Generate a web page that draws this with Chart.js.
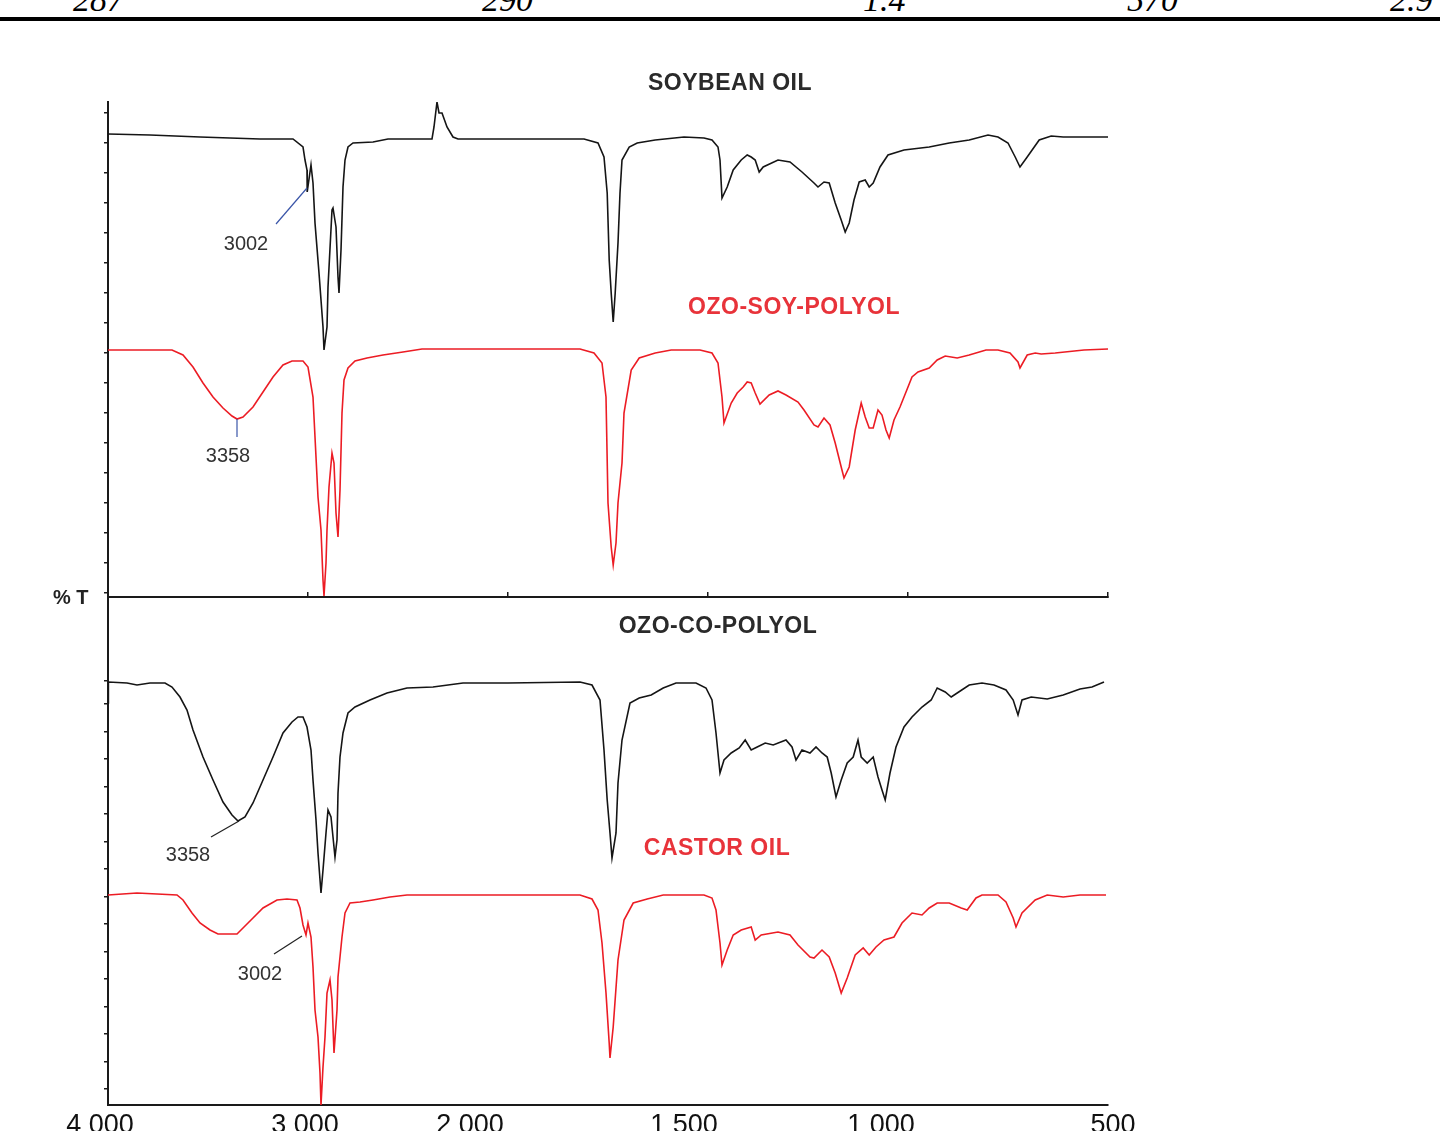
<!DOCTYPE html>
<html>
<head>
<meta charset="utf-8">
<script src="https://cdn.jsdelivr.net/npm/chart.js@4.4.0/dist/chart.umd.min.js"></script>
<style>
  body { margin: 0; width: 1440px; height: 1131px; background: #fff; position: relative; overflow: hidden;
         font-family: "Liberation Sans", Arial, sans-serif; }
  .hdr { position: absolute; top: -17px; font: italic 34px "Liberation Serif", "Times New Roman", serif; color: #000; line-height: 34px; }
  .rule { position: absolute; left: 0; top: 17px; width: 1440px; height: 4px; background: #000; }
  .title { position: absolute; font-size: 23px; font-weight: bold; line-height: 1; white-space: nowrap;
           transform: translate(-50%, -50%); letter-spacing: 0.5px; }
  .black { color: #2a2a2a; }
  .red { color: #e8333a; }
  #ylab { position: absolute; left: 53px; top: 587px; font-size: 20px; font-weight: bold; color: #222; line-height: 20px; }
  canvas { position: absolute; left: 0; }
</style>
</head>
<body>
<div class="hdr" style="left:73px">287</div>
<div class="hdr" style="left:482px">290</div>
<div class="hdr" style="left:863px">1.4</div>
<div class="hdr" style="left:1127px">570</div>
<div class="hdr" style="left:1390px">2.9</div>
<div class="rule"></div>

<canvas id="topchart" width="1440" height="600" style="top:0"></canvas>
<canvas id="bottomchart" width="1440" height="534" style="top:597px"></canvas>

<div class="title black" style="left:730px; top:82px">SOYBEAN OIL</div>
<div class="title red" style="left:794px; top:306px">OZO-SOY-POLYOL</div>
<div class="title black" style="left:718px; top:625px">OZO-CO-POLYOL</div>
<div class="title red" style="left:717px; top:847px">CASTOR OIL</div>
<div id="ylab">% T</div>

<script>
// x ticks (wavenumber, cm-1) - scale changes at 2000
const xTickValues = [4000, 3000, 2000, 1500, 1000, 500];
const xTickLabels = ['4 000', '3 000', '2 000', '1 500', '1 000', '500'];

// soybean oil
const soyWn = [4000,3790,3540,3240,3075,3025,3015,3005,3004,2985,2975,2965,2945,2925,2920,2905,2900,2880,2875,2860,2850,2845,2835,2825,2815,2800,2775,2675,2600,2380,2370,2355,2345,2330,2305,2275,2250,2000,1810,1775,1760,1752,1747,1742,1737,1732,1725,1720,1715,1697,1677,1632,1560,1510,1490,1475,1470,1465,1452,1437,1417,1402,1392,1382,1372,1362,1325,1295,1265,1235,1225,1210,1197,1182,1167,1157,1147,1135,1122,1107,1097,1087,1070,1050,1010,947,897,847,800,775,750,732,720,702,672,642,612,560,500];
const soyT = [92.6,92.4,92.0,91.6,91.6,90.0,87.4,85.4,81.0,86.4,82.8,74.8,64.8,54.0,49.4,54.0,62.0,77.4,77.8,74.0,64.0,60.8,69.4,82.0,87.4,90.0,90.8,91.0,91.6,91.6,94.0,99.0,96.8,96.8,94.0,92.0,91.6,91.6,91.6,90.8,88.0,80.8,67.4,60.8,55.0,60.8,70.8,80.8,87.4,90.0,90.8,91.4,92.0,91.8,91.4,90.0,87.4,79.8,82.0,85.4,87.4,88.4,88.0,87.4,85.0,86.0,87.4,87.0,85.0,82.8,82.0,83.0,82.8,78.8,75.4,73.0,74.8,79.4,83.0,83.4,82.0,82.8,86.0,88.4,89.4,90.0,90.8,91.4,92.4,92.0,90.8,88.0,86.0,88.0,91.4,92.2,92.0,92.0,92.0];

// ozonolysed soy polyol
const polySoyWn = [4000,3680,3625,3575,3525,3475,3425,3380,3355,3325,3275,3225,3175,3125,3080,3025,3000,2975,2965,2950,2935,2925,2920,2910,2905,2895,2880,2870,2860,2850,2840,2830,2820,2800,2765,2705,2625,2525,2430,2000,1820,1785,1765,1755,1750,1742,1737,1730,1725,1715,1710,1692,1672,1632,1592,1520,1490,1475,1465,1460,1442,1427,1412,1402,1392,1382,1370,1347,1325,1305,1275,1260,1235,1225,1210,1195,1182,1167,1160,1147,1132,1117,1107,1097,1087,1075,1065,1055,1047,1035,1020,1005,990,975,947,927,907,877,847,805,775,745,725,720,702,682,667,632,560,500];
const polySoyT = [49.4,49.4,48.4,46.0,42.8,40.0,37.8,36.2,35.6,36.0,38.0,41.0,44.0,46.4,47.2,47.2,46.0,40.0,32.0,20.0,13.4,3.4,0.2,6.8,13.4,22.0,28.8,26.8,16.8,12.0,21.4,36.8,43.4,45.8,47.2,47.8,48.4,49.0,49.6,49.6,49.6,48.8,46.8,40.0,18.8,10.0,6.4,10.8,18.8,26.8,36.8,45.4,47.8,48.8,49.4,49.4,48.8,46.8,40.0,34.8,38.8,40.8,42.0,43.0,42.8,40.8,38.6,40.4,41.2,40.4,39.0,37.4,34.4,34.0,35.8,34.4,30.8,26.0,23.8,26.0,33.4,38.8,36.0,33.8,33.8,37.4,36.4,33.4,31.8,35.4,38.0,41.0,44.0,45.0,45.8,47.4,48.2,47.8,48.4,49.4,49.4,48.8,47.0,45.8,48.4,48.8,48.6,48.8,49.4,49.6];

// ozonolysed castor oil polyol
const polyCoWn = [4000,3998,3905,3855,3790,3715,3680,3640,3605,3575,3525,3475,3425,3380,3350,3315,3275,3225,3175,3125,3080,3050,3025,3005,2985,2975,2960,2950,2935,2925,2910,2900,2885,2875,2865,2855,2850,2840,2825,2800,2765,2690,2605,2505,2375,2225,2000,1820,1790,1770,1760,1752,1745,1740,1730,1725,1715,1695,1672,1642,1612,1580,1530,1505,1490,1480,1470,1460,1442,1422,1407,1392,1377,1357,1337,1305,1290,1280,1265,1245,1230,1215,1202,1192,1180,1167,1152,1137,1125,1117,1102,1087,1075,1065,1057,1045,1030,1010,990,965,942,927,907,892,877,847,815,785,755,737,725,715,692,652,612,570,540,510];
const polyCoT = [79.4,83.6,83.4,83.0,83.4,83.4,82.6,80.6,78.0,74.0,68.6,64.0,59.6,57.0,55.8,56.6,59.4,64.0,68.6,73.4,75.6,76.6,76.6,74.6,70.0,64.0,56.0,49.4,41.4,46.0,53.4,58.0,56.6,52.6,48.6,52.0,61.4,68.6,73.4,77.4,78.6,80.0,81.4,82.4,82.6,83.4,83.4,83.6,83.0,80.0,70.0,60.0,53.4,48.4,53.4,63.4,72.0,79.4,80.4,81.0,82.4,83.4,83.4,82.4,80.0,73.4,65.4,68.0,69.4,70.4,72.0,70.0,70.6,71.4,71.0,72.0,70.6,68.0,70.0,69.4,70.6,69.4,68.6,65.4,60.6,64.0,67.4,68.6,72.0,68.6,67.4,68.6,64.6,62.0,60.0,65.4,70.6,74.6,76.6,78.6,80.0,82.4,81.6,80.6,81.4,83.0,83.4,83.0,82.0,80.0,77.0,80.0,80.6,80.2,81.0,82.2,82.6,83.6];

// castor oil
const castorWn = [4000,3855,3655,3625,3580,3540,3490,3450,3355,3325,3275,3225,3155,3105,3055,3040,3025,3010,3000,2985,2975,2965,2950,2940,2935,2925,2915,2905,2890,2880,2870,2855,2850,2830,2815,2790,2740,2675,2590,2505,2000,1820,1790,1775,1765,1755,1747,1745,1737,1725,1710,1687,1652,1612,1510,1490,1480,1470,1465,1452,1437,1417,1392,1382,1367,1325,1295,1275,1245,1235,1215,1197,1182,1167,1152,1132,1112,1097,1080,1060,1035,1015,990,965,947,927,897,867,852,830,815,775,755,737,730,715,682,652,612,570,505];
const castorT = [41.0,41.4,41.0,40.0,37.4,35.4,34.0,33.2,33.2,34.4,36.4,38.4,40.0,40.2,40.0,38.4,35.0,33.0,35.4,32.6,26.6,18.0,12.6,5.4,-1.0,6.6,12.6,21.4,24.0,20.0,9.4,18.0,24.6,32.6,37.4,39.4,39.6,40.0,40.6,41.0,41.0,41.0,40.2,38.0,31.4,21.4,11.4,8.4,14.6,28.0,36.0,39.4,40.2,41.0,41.0,40.4,38.0,31.4,27.0,30.0,33.0,34.0,34.6,32.0,33.0,33.6,33.0,31.0,28.6,28.4,30.0,28.6,25.4,21.4,24.4,29.0,30.4,29.0,30.6,32.0,32.6,35.4,37.4,37.0,38.4,39.4,39.4,38.4,38.0,40.4,41.0,41.0,39.6,36.4,34.6,37.4,40.0,41.0,40.6,41.0,41.0];

// peak labels: text position and leader line, in wavenumber / %T
const topNotes = [
    { label: '3002', wn: 3310, t: 70.6, line: [3005, 81.8, 3160, 74.6], color: '#3a55a8' },
    { label: '3358', wn: 3400, t: 28.2, line: [3355, 35.6, 3355, 32.0], color: '#3a55a8' }
];
const bottomNotes = [
    { label: '3358', wn: 3600, t: 49.0, line: [3345, 55.8, 3485, 52.6], color: '#222' },
    { label: '3002', wn: 3240, t: 25.2, line: [3030, 32.8, 3170, 29.2], color: '#222' }
];

const axisColor = '#1a1a1a';
const blackLine = '#151515';
const redLine = '#ec1c24';

// wavenumber axis: 4000-2000 on the first 40%, 2000-500 on the rest
const splitWn = 2000, splitFrac = 0.4, maxWn = 4000, minWn = 500;
const LinearScale = Chart.LinearScale || Chart.registry.getScale('linear');
class WavenumberScale extends LinearScale {
    getPixelForValue(value) {
        let f;
        if (value >= splitWn) f = (maxWn - value) / (maxWn - splitWn) * splitFrac;
        else f = splitFrac + (splitWn - value) / (splitWn - minWn) * (1 - splitFrac);
        return this.left + f * this.width;
    }
    getValueForPixel(pixel) {
        const f = (pixel - this.left) / this.width;
        if (f <= splitFrac) return maxWn - f / splitFrac * (maxWn - splitWn);
        return splitWn - (f - splitFrac) / (1 - splitFrac) * (splitWn - minWn);
    }
}
WavenumberScale.id = 'wavenumber';
WavenumberScale.defaults = LinearScale.defaults;
Chart.register(WavenumberScale);

function toPoints(wn, t) {
    return wn.map((w, i) => ({ x: w, y: t[i] }));
}

function trace(wn, t, color) {
    return {
        data: toPoints(wn, t),
        borderColor: color,
        borderWidth: 1.6,
        pointRadius: 0,
        tension: 0,
        fill: false
    };
}

function notesPlugin(notes) {
    return {
        id: 'notes',
        afterDatasetsDraw(chart) {
            const ctx = chart.ctx, xs = chart.scales.x, ys = chart.scales.y;
            ctx.save();
            notes.forEach(n => {
                ctx.strokeStyle = n.color;
                ctx.lineWidth = 1.2;
                ctx.beginPath();
                ctx.moveTo(xs.getPixelForValue(n.line[0]), ys.getPixelForValue(n.line[1]));
                ctx.lineTo(xs.getPixelForValue(n.line[2]), ys.getPixelForValue(n.line[3]));
                ctx.stroke();
                ctx.fillStyle = '#333';
                ctx.font = '20px "Liberation Sans", Arial, sans-serif';
                ctx.textAlign = 'center';
                ctx.textBaseline = 'middle';
                ctx.fillText(n.label, xs.getPixelForValue(n.wn), ys.getPixelForValue(n.t));
            });
            ctx.restore();
        }
    };
}

// the x labels in the figure sit a bit off their ticks
const labelNudge = [-8, -3, -38, -24, -27, 5];
const xLabelsPlugin = {
    id: 'xLabels',
    afterDraw(chart) {
        const ctx = chart.ctx, xs = chart.scales.x;
        ctx.save();
        ctx.font = '27px "Liberation Sans", Arial, sans-serif';
        ctx.fillStyle = '#111';
        ctx.textAlign = 'center';
        ctx.textBaseline = 'top';
        xTickValues.forEach((v, i) => {
            ctx.fillText(xTickLabels[i], xs.getPixelForValue(v) + labelNudge[i], xs.bottom + 7);
        });
        ctx.restore();
    }
};

function panelOptions(yMin, yMax, yTicks, padding, xTickLen) {
    return {
        responsive: false,
        animation: false,
        devicePixelRatio: 1,
        layout: { padding: padding },
        plugins: { legend: { display: false }, tooltip: { enabled: false } },
        scales: {
            x: {
                type: 'wavenumber',
                min: minWn,
                max: maxWn,
                afterBuildTicks: axis => { axis.ticks = xTickValues.map(v => ({ value: v })); },
                afterFit: axis => { axis.height = 0; },
                ticks: { display: false },
                grid: { drawOnChartArea: false, drawTicks: xTickLen !== 0, tickLength: xTickLen, color: axisColor, lineWidth: 1.5 },
                border: { color: axisColor, width: 2 }
            },
            y: {
                min: yMin,
                max: yMax,
                afterBuildTicks: axis => { axis.ticks = yTicks.map(v => ({ value: v })); },
                afterFit: axis => { axis.width = 0; },
                ticks: { display: false },
                grid: { drawOnChartArea: false, tickLength: 4, color: axisColor, lineWidth: 1.5 },
                border: { color: axisColor, width: 2 }
            }
        }
    };
}

// small tick marks on the %T axes
const topYTicks = [0.8, 6.8, 12.8, 18.8, 24.8, 30.8, 36.8, 42.8, 48.8, 54.8, 60.8, 66.8, 72.8, 78.8, 84.8, 90.8, 96.8];
const bottomYTicks = [2.2, 7.7, 13.2, 18.7, 24.2, 29.7, 35.2, 40.7, 46.2, 51.7, 57.2, 62.7, 68.2, 73.7, 79.2, 83.8];

new Chart(document.getElementById('topchart'), {
    type: 'line',
    data: {
        datasets: [
            trace(soyWn, soyT, blackLine),
            trace(polySoyWn, polySoyT, redLine)
        ]
    },
    options: panelOptions(0, 99, topYTicks, { left: 108, right: 332, top: 102, bottom: 3 }, -5),
    plugins: [notesPlugin(topNotes)]
});

new Chart(document.getElementById('bottomchart'), {
    type: 'line',
    data: {
        datasets: [
            trace(polyCoWn, polyCoT, blackLine),
            trace(castorWn, castorT, redLine)
        ]
    },
    options: panelOptions(-1, 100.6, bottomYTicks, { left: 108, right: 332, top: 0, bottom: 26 }, 0),
    plugins: [notesPlugin(bottomNotes), xLabelsPlugin]
});
</script>
</body>
</html>
